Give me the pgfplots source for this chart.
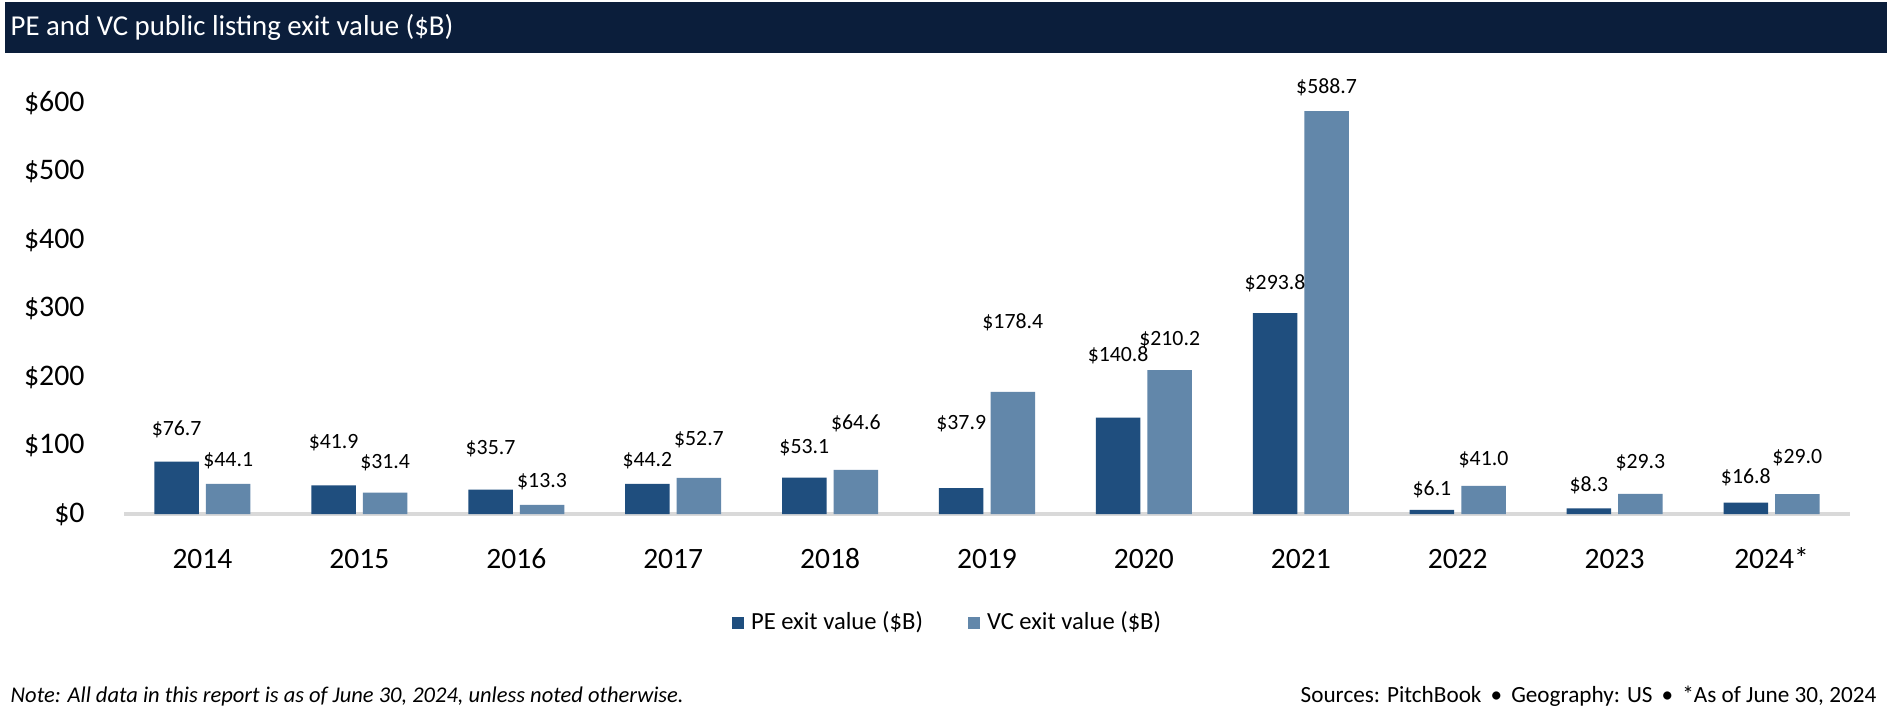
\documentclass[border=0pt]{standalone}
\usepackage{fontspec}
\setmainfont{Carlito}
\usepackage{pgfplots}
\usepackage{pgfplotstable}
\pgfplotsset{compat=1.18}

\definecolor{titlebar}{HTML}{0B1E3B}
\definecolor{pebar}{HTML}{1F4E7E}
\definecolor{vcbar}{HTML}{6287AA}
\definecolor{axisgray}{HTML}{D9D9D9}

% year, PE, VC, label lift above bar top (in px of the reference)
\pgfplotstableread{
x pe vc peoff vcoff
0 76.7 44.1 32 23
1 41.9 31.4 43 30
2 35.7 13.3 41 23
3 44.2 52.7 23 38
4 53.1 64.6 30 46
5 37.9 178.4 64 70
6 140.8 210.2 62 31
7 293.8 588.7 30 24
8 6.1 41.0 20 26
9 8.3 29.3 23 31
10 16.8 29.0 25 37
}\datatable

\begin{document}
\begin{tikzpicture}
\fill[white] (0,0) rectangle (18.87,7.12);
\fill[titlebar] (0.05,6.59) rectangle (18.87,7.10);
\node[anchor=west,text=white,inner sep=0pt,font=\fontsize{8.2}{9}\selectfont] at (0.10,6.85) {PE and VC public listing exit value (\$B)};

\begin{axis}[
  scale only axis,
  width=17.26cm, height=4.105cm,
  at={(1.24cm,1.98cm)}, anchor=south west,
  ybar, bar width=0.445cm,
  xmin=-0.5, xmax=10.5, ymin=0, ymax=600,
  clip=false,
  axis x line*=bottom, axis y line*=left,
  x axis line style={draw=axisgray, line width=0.9pt},
  y axis line style={draw=none},
  major tick length=0pt,
  xtick=data,
  xticklabels={2014,2015,2016,2017,2018,2019,2020,2021,2022,2023,2024*},
  xticklabel style={anchor=base, yshift=-0.54cm, font=\fontsize{8.4}{9}\selectfont},
  ytick={0,100,...,600},
  yticklabels={\$0,\$100,\$200,\$300,\$400,\$500,\$600},
  yticklabel style={anchor=east, xshift=-0.27cm, font=\fontsize{8.5}{10}\selectfont},
  /pgf/number format/assume math mode=true,
  legend columns=2,
  legend style={at={(axis description cs:0.4786,-0.2655)}, anchor=center, draw=none,
    font=\fontsize{7}{8}\selectfont, inner sep=0pt,
    /tikz/every even column/.append style={column sep=0.38cm}},
  legend image code/.code={\fill[#1] (0cm,-0.06cm) rectangle (0.12cm,0.06cm);},
  nodes near coords={\$\pgfmathprintnumber[fixed,fixed zerofill,precision=1]{\pgfplotspointmeta}},
  nodes near coords style={font=\fontsize{6.2}{7}\selectfont, inner sep=0pt, text=black},
]
\addplot[fill=pebar, draw=none,
  visualization depends on={\thisrow{peoff}\as\off},
  every node near coord/.append style={anchor=center, yshift=\off*0.01cm}]
  table[x=x,y=pe]{\datatable};
\addlegendentry{PE exit value (\$B)}
\addplot[fill=vcbar, draw=none,
  visualization depends on={\thisrow{vcoff}\as\off},
  every node near coord/.append style={anchor=center, yshift=\off*0.01cm}]
  table[x=x,y=vc]{\datatable};
\addlegendentry{VC exit value (\$B)}
\end{axis}

\node[anchor=west,inner sep=0pt,font=\fontsize{6.4}{7}\selectfont\itshape] at (0.10,0.16) {Note: All data in this report is as of June 30, 2024, unless noted otherwise.};
\node[anchor=east,inner sep=0pt,font=\fontsize{6.6}{7}\selectfont] at (18.77,0.16) {Sources: PitchBook \,•\, Geography: US \,•\, *As of June 30, 2024};
\end{tikzpicture}
\end{document}
